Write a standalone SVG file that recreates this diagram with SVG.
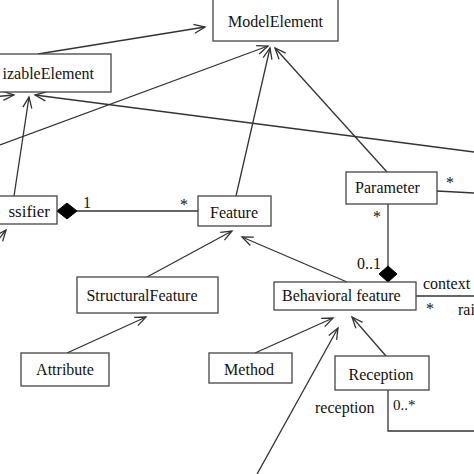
<svg xmlns="http://www.w3.org/2000/svg" width="474" height="474" viewBox="0 0 474 474">
<style>
.box{fill:#fff;stroke:#444;stroke-width:1.3}
.t{font-family:"Liberation Serif","DejaVu Serif",serif;font-size:16px;fill:#111}
.c{text-anchor:middle}
.l{fill:none;stroke:#333;stroke-width:1.3}
.a{fill:none;stroke:#333;stroke-width:1.3;marker-end:url(#open)}
.d{fill:#000;stroke:#000;stroke-width:1}
</style>
<defs>
<marker id="open" markerWidth="14" markerHeight="12" refX="12" refY="6" orient="auto" markerUnits="userSpaceOnUse">
<path d="M1,1.5 L12,6 L1,10.5" fill="none" stroke="#333" stroke-width="1.3"/>
</marker>
</defs>
<rect width="474" height="474" fill="#fff"/>
<g id="connectors">
<line class="a" x1="38" y1="54" x2="205" y2="27"/>
<line class="a" x1="-20" y1="98" x2="14" y2="95"/>
<line class="a" x1="14" y1="196" x2="29" y2="97"/>
<line class="a" x1="474" y1="152" x2="35" y2="95"/>
<line class="a" x1="0" y1="145" x2="268" y2="46"/>
<line class="a" x1="236" y1="196" x2="270" y2="48"/>
<line class="a" x1="387" y1="172" x2="275" y2="48"/>
<line class="a" x1="-10" y1="250" x2="6" y2="230"/>
<line class="l" x1="437" y1="191" x2="474" y2="193"/>
<line class="l" x1="388" y1="204" x2="388" y2="266"/>
<polygon class="d" points="388,266 397,274 388,282 379,274"/>
<line class="l" x1="416" y1="296" x2="474" y2="296"/>
<line class="l" x1="77" y1="211" x2="198" y2="211"/>
<polygon class="d" points="57,211 67,203 77,211 67,219"/>
<line class="a" x1="147" y1="277" x2="232" y2="231"/>
<line class="a" x1="347" y1="282" x2="242" y2="237"/>
<line class="a" x1="67" y1="353" x2="146" y2="317"/>
<line class="a" x1="255" y1="353" x2="333" y2="318"/>
<line class="a" x1="386" y1="356" x2="352" y2="317"/>
<line class="a" x1="256" y1="476" x2="338" y2="328"/>
<polyline class="l" points="388,390 388,431 474,431"/>
</g>
<g id="ModelElement">
<rect class="box" x="213" y="-1" width="125" height="42"/>
<text class="t c" x="275.5" y="27">ModelElement</text>
</g>
<g id="GeneralizableElement">
<rect class="box" x="-10" y="54" width="121" height="38"/>
<text class="t" x="94" y="79" text-anchor="end">izableElement</text>
</g>
<g id="Classifier">
<rect class="box" x="-10" y="196" width="67" height="28"/>
<text class="t" x="50" y="217" text-anchor="end" style="font-size:17px">ssifier</text>
</g>
<g id="Feature">
<rect class="box" x="198" y="196" width="73" height="30"/>
<text class="t c" x="234" y="218">Feature</text>
</g>
<g id="Parameter">
<rect class="box" x="346" y="172" width="91" height="32"/>
<text class="t c" x="387.5" y="193">Parameter</text>
</g>
<g id="BehavioralFeature">
<rect class="box" x="274" y="282" width="142" height="28"/>
<text class="t" x="282" y="301">Behavioral feature</text>
</g>
<g id="StructuralFeature">
<rect class="box" x="77" y="277" width="141" height="36"/>
<text class="t c" x="142" y="301">StructuralFeature</text>
</g>
<g id="Attribute">
<rect class="box" x="21" y="353" width="88" height="33"/>
<text class="t c" x="65" y="375">Attribute</text>
</g>
<g id="Method">
<rect class="box" x="209" y="353" width="83" height="30"/>
<text class="t c" x="249" y="375">Method</text>
</g>
<g id="Reception">
<rect class="box" x="335" y="356" width="94" height="34"/>
<text class="t c" x="381" y="380">Reception</text>
</g>
<g id="labels">
<text class="t" x="83" y="208">1</text>
<text class="t" x="180" y="210">*</text>
<text class="t" x="446" y="188">*</text>
<text class="t" x="373" y="222">*</text>
<text class="t" x="357" y="269">0..1</text>
<text class="t" x="423" y="289">context</text>
<text class="t" x="426" y="314">*</text>
<text class="t" x="458" y="315">rai</text>
<text class="t" x="315" y="413">reception</text>
<text class="t" x="393" y="410" style="font-size:15px">0..*</text>
</g>
</svg>
